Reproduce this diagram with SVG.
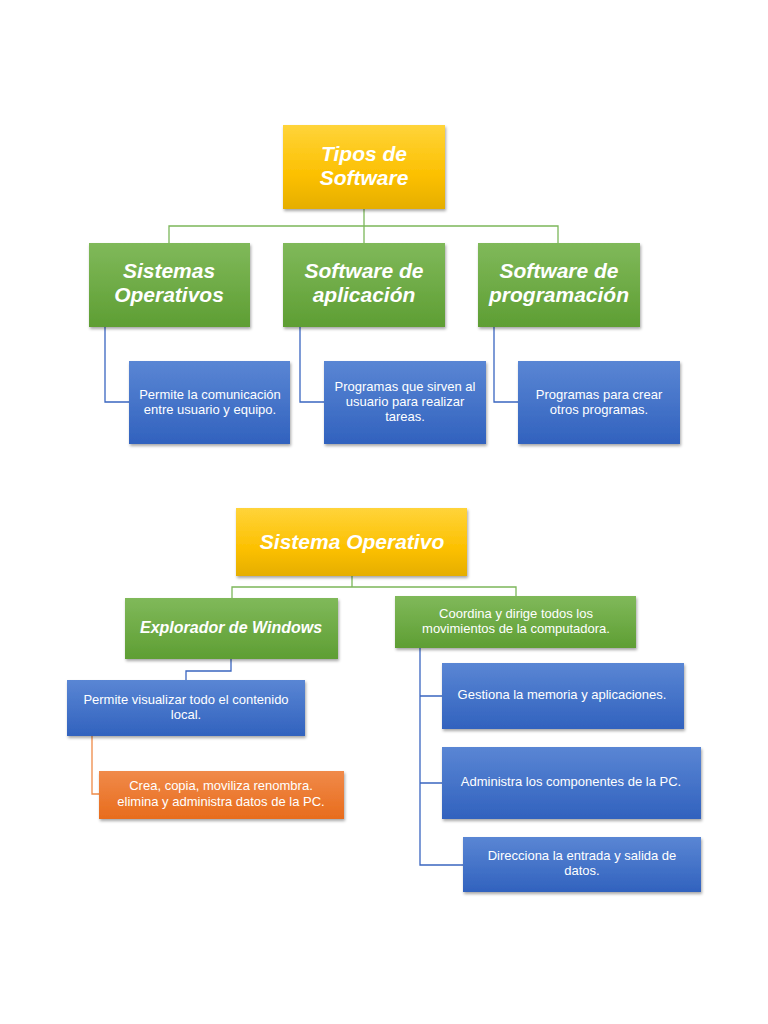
<svg xmlns="http://www.w3.org/2000/svg" width="768" height="1024" viewBox="0 0 768 1024">
<defs>
<linearGradient id="gy" x1="0" y1="0" x2="0" y2="1"><stop offset="0" stop-color="#ffd43a"/><stop offset="0.6" stop-color="#fcc000"/><stop offset="1" stop-color="#e5ae00"/></linearGradient>
<linearGradient id="gg" x1="0" y1="0" x2="0" y2="1"><stop offset="0" stop-color="#80b95a"/><stop offset="1" stop-color="#5e9e33"/></linearGradient>
<linearGradient id="gb" x1="0" y1="0" x2="0" y2="1"><stop offset="0" stop-color="#5a86d4"/><stop offset="1" stop-color="#3162be"/></linearGradient>
<linearGradient id="go" x1="0" y1="0" x2="0" y2="1"><stop offset="0" stop-color="#f08a4a"/><stop offset="1" stop-color="#e86c1c"/></linearGradient>
<filter id="sh" x="-10%" y="-10%" width="125%" height="130%"><feDropShadow dx="1" dy="2" stdDeviation="1.5" flood-color="#000" flood-opacity="0.35"/></filter>
</defs>
<style>
rect{filter:url(#sh)}
.y{fill:url(#gy)}.g{fill:url(#gg)}.b{fill:url(#gb)}.o{fill:url(#go)}
text{font-family:"Liberation Sans",Arial,sans-serif;fill:#fff;text-anchor:middle}
.t{font-size:21px;font-weight:bold;font-style:italic}
.s{font-size:13px}
.cg{stroke:#7cb75a;stroke-width:1.3;fill:none}
.cb{stroke:#3a66c0;stroke-width:1.3;fill:none}
.co{stroke:#ee8a48;stroke-width:1.3;fill:none}
</style>
<rect width="768" height="1024" fill="#fff" style="filter:none"/>
<g id="connectors">
<path class="cg" d="M364 209V226M169 243V226H558V243M364 226V243"/>
<path class="cb" d="M105 327V402H129M300 327V402H324M494 327V402H518"/>
<path class="cg" d="M352 576V587H232V598M352 587H516V596"/>
<path class="cb" d="M231 659V671H186V680"/>
<path class="co" d="M92 736V794H99"/>
<path class="cb" d="M420 648V865H463M420 696H442M420 783H442"/>
</g>
<g id="n1"><rect class="y" x="283" y="125" width="162" height="84"/><text class="t" x="364" y="161">Tipos de</text><text class="t" x="364" y="185">Software</text></g>
<g id="n2"><rect class="g" x="89" y="243" width="161" height="84"/><text class="t" x="169" y="278">Sistemas</text><text class="t" x="169" y="302">Operativos</text></g>
<g id="n3"><rect class="g" x="283" y="243" width="162" height="84"/><text class="t" x="364" y="278">Software de</text><text class="t" x="364" y="302">aplicación</text></g>
<g id="n4"><rect class="g" x="478" y="243" width="162" height="84"/><text class="t" x="559" y="278">Software de</text><text class="t" x="559" y="302">programación</text></g>
<g id="n5"><rect class="b" x="129" y="361" width="161" height="83"/><text class="s" x="210" y="399">Permite la comunicación</text><text class="s" x="210" y="414">entre usuario y equipo.</text></g>
<g id="n6"><rect class="b" x="324" y="361" width="162" height="83"/><text class="s" x="405" y="391">Programas que sirven al</text><text class="s" x="405" y="406">usuario para realizar</text><text class="s" x="405" y="421">tareas.</text></g>
<g id="n7"><rect class="b" x="518" y="361" width="162" height="83"/><text class="s" x="599" y="399">Programas para crear</text><text class="s" x="599" y="414">otros programas.</text></g>
<g id="n8"><rect class="y" x="236" y="508" width="231" height="68"/><text class="t" x="352" y="549">Sistema Operativo</text></g>
<g id="n9"><rect class="g" x="125" y="598" width="213" height="61"/><text class="t" x="231" y="633" style="font-size:16px">Explorador de Windows</text></g>
<g id="n10"><rect class="g" x="395" y="596" width="241" height="52"/><text class="s" x="516" y="618">Coordina y dirige todos los</text><text class="s" x="516" y="633">movimientos de la computadora.</text></g>
<g id="n11"><rect class="b" x="67" y="680" width="238" height="56"/><text class="s" x="186" y="704">Permite visualizar todo el contenido</text><text class="s" x="186" y="719">local.</text></g>
<g id="n12"><rect class="o" x="99" y="771" width="245" height="48"/><text class="s" x="221" y="790">Crea, copia, moviliza renombra.</text><text class="s" x="221" y="806">elimina y administra datos de la PC.</text></g>
<g id="n13"><rect class="b" x="442" y="663" width="242" height="66"/><text class="s" x="562" y="699">Gestiona la memoria y aplicaciones.</text></g>
<g id="n14"><rect class="b" x="442" y="747" width="259" height="72"/><text class="s" x="571" y="786">Administra los componentes de la PC.</text></g>
<g id="n15"><rect class="b" x="463" y="837" width="238" height="55"/><text class="s" x="582" y="860">Direcciona la entrada y salida de</text><text class="s" x="582" y="875">datos.</text></g>
</svg>
